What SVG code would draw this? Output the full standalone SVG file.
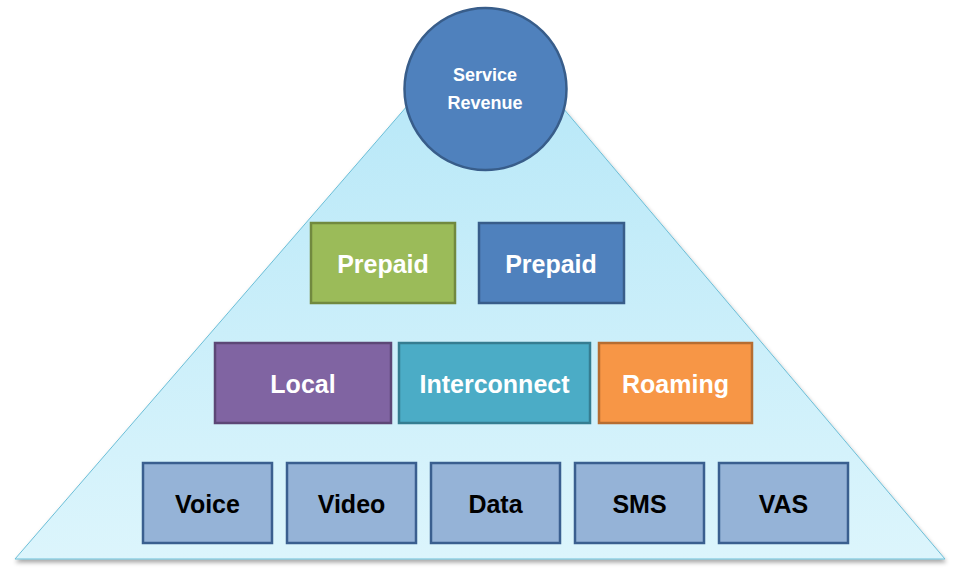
<svg xmlns="http://www.w3.org/2000/svg" width="960" height="574" viewBox="0 0 960 574">
<defs>
<linearGradient id="g" x1="0" y1="0" x2="0" y2="1"><stop offset="0" stop-color="#b3e6f7"/><stop offset="1" stop-color="#dcf5fc"/></linearGradient>
<filter id="sh" x="-5%" y="-5%" width="110%" height="110%"><feDropShadow dx="1" dy="3" stdDeviation="2" flood-opacity="0.35"/></filter>
</defs>
<style>
text{font-family:"Liberation Sans",Arial,sans-serif;font-weight:bold;text-anchor:middle;dominant-baseline:central}
.w{fill:#fff;font-size:25px}.b{fill:#000;font-size:25px}
rect{stroke-width:2.5}
</style>
<g id="pyramid"><polygon points="485,16 945,559 15,559" fill="url(#g)" stroke="#6cbfd8" stroke-width="1" filter="url(#sh)"/></g>
<g id="connectors"/>
<g id="service"><circle cx="485.5" cy="89" r="81" fill="#4f81bd" stroke="#385d8a" stroke-width="2.5"/>
<text x="485" y="75" style="font-size:18px;fill:#fff">Service</text><text x="485" y="103" style="font-size:18px;fill:#fff">Revenue</text></g>
<g id="prepaid1"><rect x="311" y="223" width="144" height="80" fill="#9bbb59" stroke="#71893f"/><text class="w" x="383" y="264">Prepaid</text></g>
<g id="prepaid2"><rect x="479" y="223" width="145" height="80" fill="#4f81bd" stroke="#385d8a"/><text class="w" x="551" y="264">Prepaid</text></g>
<g id="local"><rect x="215" y="343" width="176" height="80" fill="#8064a2" stroke="#5c4776"/><text class="w" x="303" y="384">Local</text></g>
<g id="interconnect"><rect x="399" y="343" width="191" height="80" fill="#4bacc6" stroke="#357d91"/><text class="w" x="494.5" y="384">Interconnect</text></g>
<g id="roaming"><rect x="599" y="343" width="153" height="80" fill="#f79646" stroke="#b66d31"/><text class="w" x="675.5" y="384">Roaming</text></g>
<g id="voice"><rect x="143" y="463" width="129" height="80" fill="#95b3d7" stroke="#3a5f8f"/><text class="b" x="207.5" y="504">Voice</text></g>
<g id="video"><rect x="287" y="463" width="129" height="80" fill="#95b3d7" stroke="#3a5f8f"/><text class="b" x="351.5" y="504">Video</text></g>
<g id="data"><rect x="431" y="463" width="129" height="80" fill="#95b3d7" stroke="#3a5f8f"/><text class="b" x="495.5" y="504">Data</text></g>
<g id="sms"><rect x="575" y="463" width="129" height="80" fill="#95b3d7" stroke="#3a5f8f"/><text class="b" x="639.5" y="504">SMS</text></g>
<g id="vas"><rect x="719" y="463" width="129" height="80" fill="#95b3d7" stroke="#3a5f8f"/><text class="b" x="783.5" y="504">VAS</text></g>
</svg>
